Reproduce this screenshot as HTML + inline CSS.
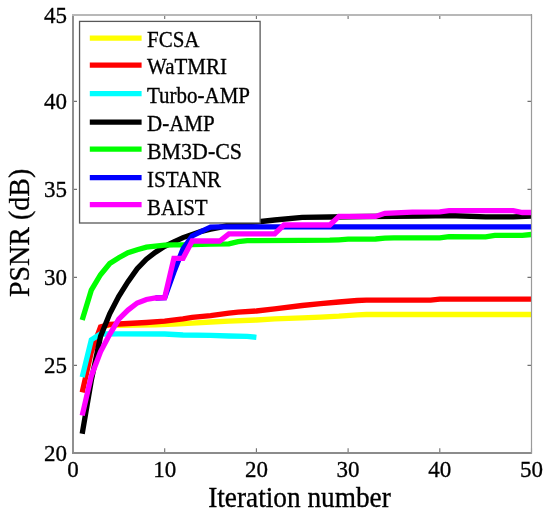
<!DOCTYPE html>
<html><head><meta charset="utf-8"><style>
html,body{margin:0;padding:0;background:#fff;}
svg{display:block;}
text{font-family:"Liberation Serif","Times New Roman",serif;fill:#000;stroke:#000;stroke-width:0.3px;}
</style></head><body>
<svg width="550" height="515" viewBox="0 0 550 515">
<rect width="550" height="515" fill="#fff"/>
<g fill="none" stroke-width="5.3" stroke-linejoin="miter" stroke-miterlimit="10" stroke-linecap="butt">
<polyline points="100.5,327.0 109.7,325.0 118.8,325.4 155.5,324.9 173.9,324.0 192.2,323.1 210.6,322.0 228.9,321.2 256.4,320.0 274.7,318.8 302.2,317.9 320.6,317.1 338.9,316.2 357.3,314.8 366.4,314.5 531.5,314.5" stroke="#ffff00"/>
<polyline points="82.2,392.3 91.3,352.0 100.5,327.0 109.7,324.5 128.0,323.5 146.4,322.5 164.7,321.2 183.0,318.8 192.2,317.3 210.6,315.6 228.9,313.2 238.1,312.2 256.4,311.0 274.7,308.8 302.2,305.5 320.6,303.6 338.9,302.0 357.3,300.5 366.4,300.1 430.6,300.1 439.8,299.2 531.5,299.2" stroke="#ff0000"/>
<polyline points="82.2,377.2 91.3,339.8 100.5,334.0 118.8,333.8 164.7,334.0 183.0,335.0 210.6,335.3 228.9,336.0 247.2,336.3 256.4,337.3" stroke="#00ffff"/>
<polyline points="82.2,433.7 91.3,380.5 100.5,336.6 109.7,313.8 118.8,296.3 128.0,281.7 137.2,268.7 146.4,259.2 155.5,252.2 164.7,246.3 173.9,241.8 183.0,237.6 192.2,234.4 201.4,231.3 210.6,229.2 219.7,227.3 228.9,225.0 238.1,223.0 256.4,222.0 274.7,220.0 302.2,217.3 329.8,217.0 366.4,216.5 421.5,216.0 449.0,215.5 485.6,216.8 513.2,216.8 531.5,216.2" stroke="#000000"/>
<polyline points="82.2,320.0 91.3,290.2 100.5,274.7 109.7,263.5 118.8,257.7 128.0,252.7 137.2,249.7 146.4,247.2 155.5,246.2 164.7,245.2 173.9,244.9 183.0,244.8 210.6,244.2 228.9,243.8 238.1,241.6 247.2,240.6 302.2,240.4 329.8,240.2 338.9,239.8 348.1,239.2 375.6,239.0 384.8,238.2 393.9,237.8 439.8,237.8 449.0,236.6 485.6,236.8 494.8,235.4 522.3,235.4 531.5,234.5" stroke="#00ff00"/>
<polyline points="155.5,298.0 164.7,297.6 173.9,272.0 183.0,249.0 192.2,236.0 201.4,231.3 210.6,227.2 219.7,226.8 531.5,226.8" stroke="#0000ff"/>
<polyline points="82.2,415.5 91.3,376.0 100.5,351.8 109.7,334.3 118.8,319.1 128.0,310.1 137.2,303.0 146.4,299.5 155.5,298.0 164.7,297.6 173.9,258.3 183.0,258.3 192.2,241.0 219.7,241.0 228.9,233.8 274.7,233.8 283.9,225.0 329.8,225.0 338.9,216.4 375.6,216.4 384.8,213.3 412.3,212.1 439.8,211.9 449.0,210.7 513.2,210.7 522.3,212.5 531.5,212.5" stroke="#ff00ff"/>
</g>
<path d="M73.0 453.1V448.3M73.0 14.9V18.9M164.7 453.1V448.3M164.7 14.9V18.9M256.4 453.1V448.3M256.4 14.9V18.9M348.1 453.1V448.3M348.1 14.9V18.9M439.8 453.1V448.3M439.8 14.9V18.9M531.5 453.1V448.3M531.5 14.9V18.9M73.0 453.1H77.0M531.5 453.1H527.5M73.0 365.4H77.0M531.5 365.4H527.5M73.0 277.4H77.0M531.5 277.4H527.5M73.0 189.4H77.0M531.5 189.4H527.5M73.0 101.4H77.0M531.5 101.4H527.5M73.0 14.9H77.0M531.5 14.9H527.5" stroke="#707070" stroke-width="1.1" fill="none"/>
<path d="M73.0 14 V454.1" stroke="#909090" stroke-width="2" fill="none"/>
<path d="M72 453.1 H532" stroke="#8c8c8c" stroke-width="2" fill="none"/>
<path d="M72 15 H532" stroke="#b8b8b8" stroke-width="2" fill="none"/>
<path d="M531.5 14 V454" stroke="#9a9a9a" stroke-width="1.2" fill="none"/>
<g font-size="23"><text x="73.0" y="477" text-anchor="middle">0</text><text x="164.7" y="477" text-anchor="middle">10</text><text x="256.4" y="477" text-anchor="middle">20</text><text x="348.1" y="477" text-anchor="middle">30</text><text x="439.8" y="477" text-anchor="middle">40</text><text x="531.5" y="477" text-anchor="middle">50</text><text x="67" y="461.3" text-anchor="end">20</text><text x="67" y="373.1" text-anchor="end">25</text><text x="67" y="285.1" text-anchor="end">30</text><text x="67" y="197.1" text-anchor="end">35</text><text x="67" y="109.1" text-anchor="end">40</text><text x="67" y="23.1" text-anchor="end">45</text></g>
<rect x="79.55" y="21.4" width="180.55" height="201.6" fill="#fff" stroke="#585858" stroke-width="1.3"/>
<g font-size="21"><line x1="89.8" y1="38.2" x2="141.6" y2="38.2" stroke="#ffff00" stroke-width="5.3"/><text transform="translate(147,46.6) scale(1,1.07)">FCSA</text><line x1="89.8" y1="65.1" x2="141.6" y2="65.1" stroke="#ff0000" stroke-width="5.3"/><text transform="translate(147,74.1) scale(1,1.07)">WaTMRI</text><line x1="89.8" y1="93.7" x2="141.6" y2="93.7" stroke="#00ffff" stroke-width="5.3"/><text transform="translate(147,102.8) scale(1,1.07)">Turbo-AMP</text><line x1="89.8" y1="122.05" x2="141.6" y2="122.05" stroke="#000000" stroke-width="5.3"/><text transform="translate(147,131.4) scale(1,1.07)">D-AMP</text><line x1="89.8" y1="149.05" x2="141.6" y2="149.05" stroke="#00ff00" stroke-width="5.3"/><text transform="translate(147,158.7) scale(1,1.07)" textLength="95" lengthAdjust="spacingAndGlyphs">BM3D-CS</text><line x1="89.8" y1="177.7" x2="141.6" y2="177.7" stroke="#0000ff" stroke-width="5.3"/><text transform="translate(147,187.4) scale(1,1.07)">ISTANR</text><line x1="89.8" y1="204.7" x2="141.6" y2="204.7" stroke="#ff00ff" stroke-width="5.3"/><text transform="translate(147,215.3) scale(1,1.07)">BAIST</text></g>
<text transform="translate(299.5,507.2) scale(1,1.06)" font-size="27.3" text-anchor="middle">Iteration number</text>
<text transform="translate(29.3,232.9) rotate(-90) scale(1,1.05)" font-size="28" text-anchor="middle">PSNR (dB)</text>
</svg>
</body></html>
